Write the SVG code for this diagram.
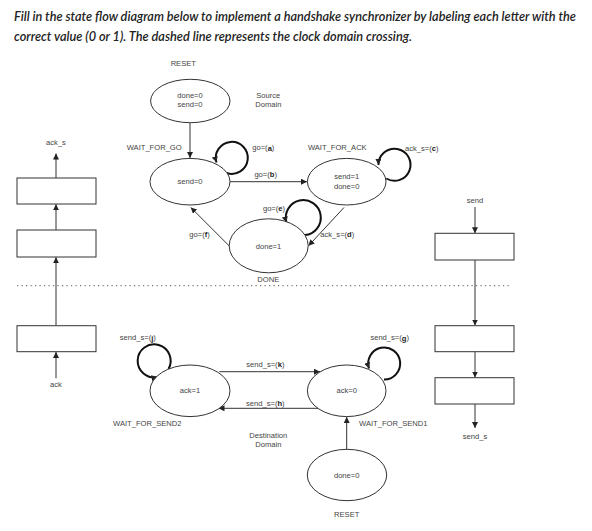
<svg xmlns="http://www.w3.org/2000/svg" width="592" height="531" viewBox="0 0 592 531">
<defs>
<marker id="arr" markerUnits="userSpaceOnUse" markerWidth="7" markerHeight="6" refX="6" refY="3" orient="auto">
<path d="M0,0 L6,3 L0,6 z" fill="#222"/>
</marker>
<style>
.t{font-family:"Liberation Sans",Arial,sans-serif;font-size:7.6px;fill:#444;text-anchor:middle;dominant-baseline:central}
.b{font-weight:bold;fill:#222}
.title{font-family:Lato,"Liberation Sans",sans-serif;font-style:italic;font-weight:600;font-size:12.5px;fill:#222}
.st{fill:#fff;stroke:#333;stroke-width:1}
.box{fill:#fff;stroke:#333;stroke-width:1}
.ln{fill:none;stroke:#333;stroke-width:1;marker-end:url(#arr)}
.lp{fill:none;stroke:#111;stroke-width:2;marker-end:url(#arr)}
.dot{stroke:#777;stroke-width:1.2;stroke-dasharray:1.2 3.3}
</style>
</defs>
<rect width="592" height="531" fill="#fff"/>
<g id="title">
<text class="title" x="14" y="21.3" textLength="562" lengthAdjust="spacingAndGlyphs">Fill in the state flow diagram below to implement a handshake synchronizer by labeling each letter with the</text>
<text class="title" x="14" y="41.3" textLength="398" lengthAdjust="spacingAndGlyphs">correct value (0 or 1). The dashed line represents the clock domain crossing.</text>
</g>
<line class="dot" x1="17" y1="285.7" x2="512" y2="285.7"/>
<g id="connectors">
<path class="ln" d="M190,122.7 L190,158"/>
<path class="ln" d="M230,181.7 L307,181.7"/>
<path class="ln" d="M344,207.5 L308.5,245.8"/>
<path class="ln" d="M229.3,246 L190.8,207.5"/>
<path class="lp" d="M226.7,173 A16 16 0 1 0 216.5,162.5"/>
<path class="lp" d="M386.3,178.5 A16 16 0 1 0 378.5,165"/>
<path class="lp" d="M305,235 A17.5 17.5 0 1 0 286.5,222.5"/>
<path class="ln" d="M219.3,371.7 L320,371.7"/>
<path class="ln" d="M322.7,408.3 L218.5,408.3"/>
<path class="ln" d="M346.7,449.3 L346.7,417"/>
<path class="lp" d="M168.5,369 A16.5 16.5 0 1 0 157.5,377"/>
<path class="lp" d="M384,379.5 A16 16 0 1 0 369,368.5"/>
<path class="ln" d="M56,378.3 L56,352"/>
<path class="ln" d="M56,325.7 L56,257.2"/>
<path class="ln" d="M56,230 L56,204.2"/>
<path class="ln" d="M56,178 L56,153.5"/>
<path class="ln" d="M475,207 L475,233.2"/>
<path class="ln" d="M475,260 L475,325.5"/>
<path class="ln" d="M475,351.7 L475,377.5"/>
<path class="ln" d="M475,404 L475,428"/>
</g>
<g id="edge-labels">
<text class="t" x="263.3" y="147.7">go=(<tspan class="b">a</tspan>)</text>
<text class="t" x="265.7" y="174.3">go=(<tspan class="b">b</tspan>)</text>
<text class="t" x="421.7" y="148.3">ack_s=(<tspan class="b">c</tspan>)</text>
<text class="t" x="337.3" y="234">ack_s=(<tspan class="b">d</tspan>)</text>
<text class="t" x="274" y="208">go=(<tspan class="b">e</tspan>)</text>
<text class="t" x="199.5" y="234">go=(<tspan class="b">f</tspan>)</text>
<text class="t" x="389.7" y="337.7">send_s=(<tspan class="b">g</tspan>)</text>
<text class="t" x="265.3" y="403.3">send_s=(<tspan class="b">h</tspan>)</text>
<text class="t" x="137.8" y="337.7">send_s=(<tspan class="b">j</tspan>)</text>
<text class="t" x="265.3" y="364.3">send_s=(<tspan class="b">k</tspan>)</text>
</g>
<g id="reset-src">
<text class="t" x="183.3" y="63.3">RESET</text>
<ellipse class="st" cx="190.3" cy="101" rx="39.7" ry="21.7"/>
<text class="t" x="190" y="95">done=0</text>
<text class="t" x="190" y="104">send=0</text>
</g>
<g id="source-domain">
<text class="t" x="268.3" y="95">Source</text>
<text class="t" x="268.3" y="104">Domain</text>
</g>
<g id="wait-for-go">
<ellipse class="st" cx="190" cy="181.7" rx="40" ry="23.3"/>
<text class="t" x="190" y="181.7">send=0</text>
<text class="t" x="154.2" y="147.7">WAIT_FOR_GO</text>
</g>
<g id="wait-for-ack">
<ellipse class="st" cx="346.7" cy="181.7" rx="39.3" ry="23.3"/>
<text class="t" x="346.7" y="176.7">send=1</text>
<text class="t" x="346.7" y="186">done=0</text>
<text class="t" x="337.3" y="147.7">WAIT_FOR_ACK</text>
</g>
<g id="done">
<ellipse class="st" cx="268.7" cy="245.8" rx="39.5" ry="27"/>
<text class="t" x="268.5" y="246.5">done=1</text>
<text class="t" x="268.3" y="279">DONE</text>
</g>
<g id="wait-for-send2">
<ellipse class="st" cx="190" cy="390.8" rx="40" ry="25.8"/>
<text class="t" x="190" y="390">ack=1</text>
<text class="t" x="147.3" y="423.3">WAIT_FOR_SEND2</text>
</g>
<g id="wait-for-send1">
<ellipse class="st" cx="346.7" cy="390.8" rx="39.3" ry="25.8"/>
<text class="t" x="346.7" y="390">ack=0</text>
<text class="t" x="393.3" y="423.3">WAIT_FOR_SEND1</text>
</g>
<g id="dest-domain">
<text class="t" x="268.3" y="435">Destination</text>
<text class="t" x="268.3" y="444.3">Domain</text>
</g>
<g id="reset-dst">
<ellipse class="st" cx="347" cy="475" rx="39.7" ry="25.7"/>
<text class="t" x="346.7" y="475">done=0</text>
<text class="t" x="346.7" y="514.3">RESET</text>
</g>
<g id="ack-sync">
<rect class="box" x="17" y="178" width="79" height="26"/>
<rect class="box" x="17" y="230" width="79" height="27"/>
<rect class="box" x="17" y="325.7" width="79" height="26"/>
<text class="t" x="56" y="142.7">ack_s</text>
<text class="t" x="56" y="384">ack</text>
</g>
<g id="send-sync">
<rect class="box" x="435" y="233.3" width="79" height="26.7"/>
<rect class="box" x="435" y="325.7" width="79" height="26"/>
<rect class="box" x="435" y="377.7" width="79" height="26.3"/>
<text class="t" x="475" y="200.7">send</text>
<text class="t" x="475" y="436">send_s</text>
</g>
</svg>
